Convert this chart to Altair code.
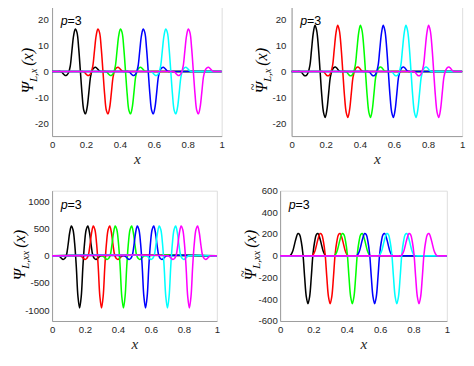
import altair as alt
import pandas as pd

# ---------------- data ----------------
x_ticks = [0, 0.2, 0.4, 0.6, 0.8, 1]
centers = [0.167, 0.300, 0.433, 0.567, 0.700, 0.833]
curve_ids = ["c1", "c2", "c3", "c4", "c5", "c6"]
curve_colors = ["#000000", "#ff0000", "#00ff00", "#0000ff", "#00ffff", "#ff00ff"]

# offsets (relative to each curve's centre) at which the shapes were read
u_offsets = [-0.13, -0.12, -0.11, -0.10, -0.09, -0.08, -0.07, -0.06, -0.05,
             -0.04, -0.03, -0.02, -0.01, 0.0, 0.01, 0.02, 0.03, 0.04, 0.05,
             0.06, 0.07, 0.08, 0.09, 0.10, 0.11, 0.12, 0.13]

psi_x = [0, 0, -0.3, -1.0, -1.6, -1.4, -0.5, 2.0, 8.0, 13.8, 16.4, 15.0, 8.9,
         0, -8.9, -15.0, -16.4, -13.8, -8.0, -2.0, 0.5, 1.4, 1.6, 1.0, 0.3, 0, 0]
psi_tx = [0, 0, -0.3, -1.1, -1.7, -1.5, -0.4, 2.2, 8.5, 14.8, 17.8, 15.8, 9.4,
          0, -9.4, -15.8, -17.8, -14.8, -8.5, -2.2, 0.4, 1.5, 1.7, 1.1, 0.3, 0, 0]
psi_xx = [0, -15, -45, -65, -50, 10, 200, 430, 550, 480, 230, -200, -745,
          -960, -745, -200, 230, 480, 550, 430, 200, 10, -50, -65, -45, -15, 0]
psi_txx = [0, 0, 0, 15, 50, 110, 170, 205, 195, 130, 15, -195, -375,
           -440, -375, -195, 15, 130, 195, 205, 170, 110, 50, 15, 0, 0, 0]

yticks_1 = [-20, -10, 0, 10, 20]
yticks_3 = [-1000, -500, 0, 500, 1000]
yticks_4 = [-600, -400, -200, 0, 200, 400, 600]

LABEL_FONT = "Liberation Sans"
SERIF = "Liberation Serif"
FRAME = "#9a9a9a"
TXT = "#262626"
ONE = pd.DataFrame({"a": [0]})


def curves(shape):
    rows = []
    for cid, c in zip(curve_ids, centers):
        rows.append((0.0, 0.0, cid))
        for u, v in zip(u_offsets, shape):
            rows.append((round(c + u, 4), v, cid))
        rows.append((1.0, 0.0, cid))
    return pd.DataFrame(rows, columns=["x", "y", "k"])


def panel(shape, ydom, yticks, width, height, tilde, sub, ax, lab_pad):
    df = curves(shape)
    lines = alt.Chart(df).mark_line(
        strokeWidth=1.6, interpolate="catmull-rom"
    ).encode(
        x=alt.X("x:Q", scale=alt.Scale(domain=[0, 1], nice=False),
                axis=alt.Axis(values=x_ticks, format="~g", title="x",
                              titleFont=SERIF, titleFontStyle="italic",
                              titleFontWeight="normal", titleFontSize=16,
                              titleColor=TXT, titlePadding=2,
                              labelFont=LABEL_FONT, labelFontSize=10,
                              labelColor=TXT, labelFlush=False,
                              labelPadding=4, ticks=False, grid=False,
                              domainColor=FRAME)),
        y=alt.Y("y:Q", scale=alt.Scale(domain=ydom, nice=False),
                axis=alt.Axis(values=yticks, title=None,
                              labelExpr="datum.value < 0 ? '-' + format(-datum.value, '~g') : format(datum.value, '~g')",
                              labelFont=LABEL_FONT, labelFontSize=10,
                              labelColor=TXT, labelFlush=False,
                              labelPadding=lab_pad, ticks=False, grid=False,
                              domainColor=FRAME)),
        color=alt.Color("k:N", scale=alt.Scale(domain=curve_ids, range=curve_colors),
                        legend=None),
    )
    w_psi, w_sub, w_par = 12, 5.2 * len(sub) + 1, 17
    total = w_psi + w_sub + w_par
    y0 = height / 2 + total / 2
    base = dict(angle=270, align="left", baseline="alphabetic", font=SERIF,
                fontStyle="italic", color="#000000")
    layers = [lines]
    layers.append(alt.Chart(ONE).mark_text(text="\u03a8", fontSize=17, **base).encode(
        x=alt.value(ax), y=alt.value(y0)))
    if tilde:
        layers.append(alt.Chart(ONE).mark_text(text="~", fontSize=13, dx=3, dy=-10, **base).encode(
            x=alt.value(ax), y=alt.value(y0)))
    layers.append(alt.Chart(ONE).mark_text(text=sub, fontSize=11, dx=w_psi, dy=4, **base).encode(
        x=alt.value(ax), y=alt.value(y0)))
    layers.append(alt.Chart(ONE).mark_text(text="(x)", fontSize=17, dx=w_psi + w_sub, **base).encode(
        x=alt.value(ax), y=alt.value(y0)))
    layers.append(alt.Chart(ONE).mark_text(text="p", fontSize=13, font=LABEL_FONT, fontStyle="italic",
                                           align="left", baseline="middle", color="#000000").encode(
        x=alt.value(9), y=alt.value(15)))
    layers.append(alt.Chart(ONE).mark_text(text="=3", fontSize=13, font=LABEL_FONT,
                                           align="left", baseline="middle", color="#000000").encode(
        x=alt.value(16), y=alt.value(15)))
    return alt.layer(*layers).properties(width=width, height=height)


P1 = panel(psi_x, [-25, 25], yticks_1, 177, 135, False, "L,x", -20, 4)
P2 = panel(psi_tx, [-25, 25], yticks_1, 178, 135, True, "L,x", -26, 6)
P3 = panel(psi_xx, [-1200, 1200], yticks_3, 172, 136, False, "L,xx", -28, 3)
P4 = panel(psi_txx, [-600, 600], yticks_4, 174, 136, True, "L,xx", -25, 3)

top = alt.hconcat(P1, P2, spacing=22)
bottom = alt.hconcat(P3, P4, spacing=16)
chart = alt.vconcat(top, bottom, spacing=18).properties(
    padding={"left": 3, "top": -10, "right": 0, "bottom": 0}
).configure_view(stroke=FRAME, strokeWidth=1).configure(background="white")

chart.save("out.html", embed_options={"renderer": "svg", "actions": False})
